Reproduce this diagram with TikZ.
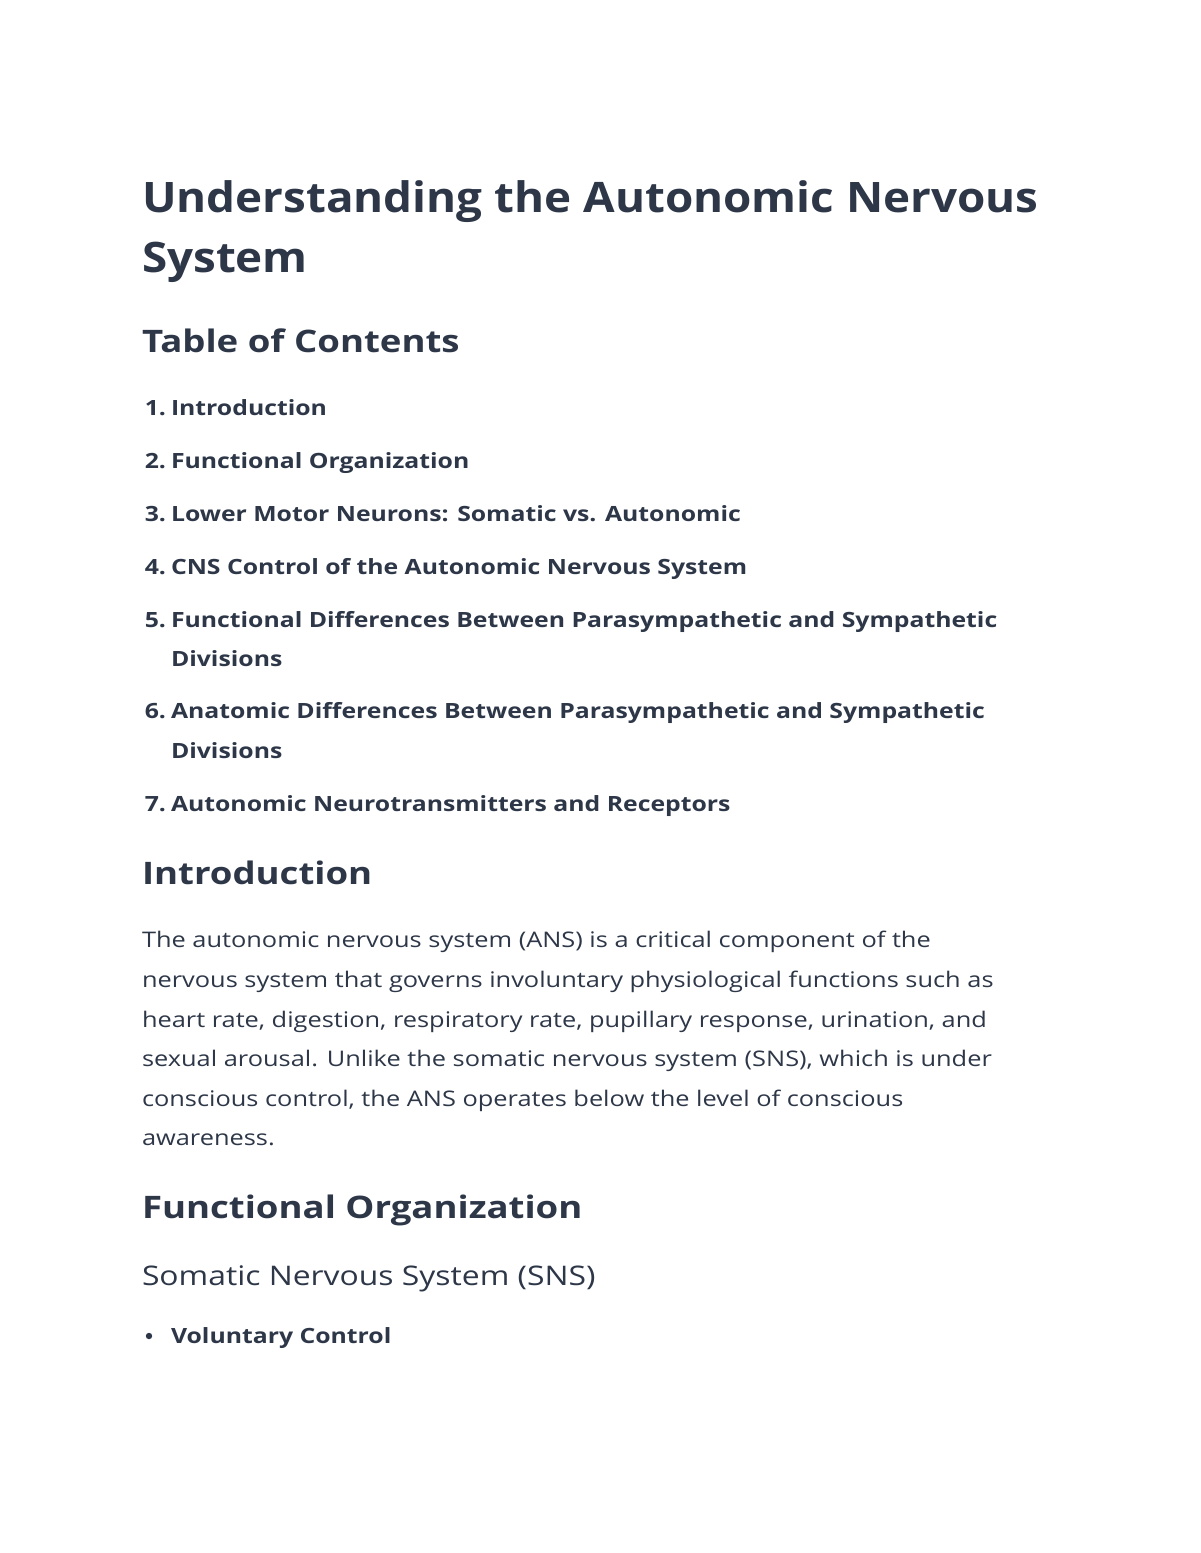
\documentclass[tikz,border=0pt]{standalone}
\usepackage{fontspec}
\setmainfont[FakeStretch=1.18]{Open Sans}
\newfontfamily\titlefont[FakeStretch=1.09]{Open Sans}
\definecolor{ink}{HTML}{2D3748}
\begin{document}
\begin{tikzpicture}[x=1pt,y=-1pt,
  every node/.style={inner sep=0pt,outer sep=0pt,text=ink,anchor=base west},
  title/.style={font=\titlefont\fontsize{42}{52}\selectfont\bfseries},
  head/.style={font=\fontsize{31}{40}\selectfont\bfseries},
  sub/.style={font=\fontsize{27}{34}\selectfont},
  item/.style={font=\fontsize{21}{28}\selectfont\bfseries},
  num/.style={font=\fontsize{21}{28}\selectfont\bfseries,anchor=base east},
  para/.style={font=\fontsize{21.5}{28}\selectfont}]
\useasboundingbox[fill=white] (0,0) rectangle (1200,1553);
\node[title] (t1) at (142,212) {Understanding the Autonomic Nervous};
\node[title] (t2) at (142,272) {System};
\node[head] (toc) at (142,352) {Table of Contents};
\foreach \n/\y/\t in {1/415/Introduction,2/468/Functional Organization,3/521/Lower Motor Neurons: Somatic vs. Autonomic,4/574/CNS Control of the Autonomic Nervous System,5/627/Functional Differences Between Parasympathetic and Sympathetic,6/718/Anatomic Differences Between Parasympathetic and Sympathetic,7/811/Autonomic Neurotransmitters and Receptors}{
  \node[num] (n\n) at (166,\y) {\n.};
  \node[item] (i\n) at (171,\y) {\t};
}
\node[item] (i5b) at (171,666) {Divisions};
\node[item] (i6b) at (171,758) {Divisions};
\node[head] (intro) at (142,884) {Introduction};
\foreach \k/\y/\t in {1/947/{The autonomic nervous system (ANS) is a critical component of the},
 2/987/{nervous system that governs involuntary physiological functions such as},
 3/1027/{heart rate, digestion, respiratory rate, pupillary response, urination, and},
 4/1066/{sexual arousal. Unlike the somatic nervous system (SNS), which is under},
 5/1106/{conscious control, the ANS operates below the level of conscious},
 6/1145/{awareness.}}{
  \node[para] (p\k) at (142,\y) {\t};
}
\node[head] (fo) at (142,1218) {Functional Organization};
\node[sub] (sns) at (142,1285) {Somatic Nervous System (SNS)};
\fill[ink] (149,1336) circle (3.2);
\node[item] (vc) at (171,1343) {Voluntary Control};
\end{tikzpicture}
\end{document}
